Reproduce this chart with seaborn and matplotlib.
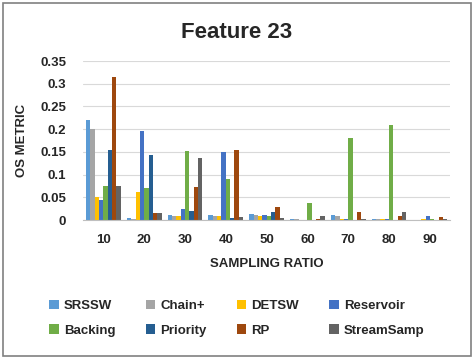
"""Feature 23: OS metric per sampling ratio for eight samplers."""
import matplotlib
matplotlib.use("Agg")
import matplotlib.pyplot as plt
from matplotlib.patches import Rectangle
import pandas as pd
import seaborn as sns

ratios = ["10", "20", "30", "40", "50", "60", "70", "80", "90"]
methods = ["SRSSW", "Chain+", "DETSW", "Reservoir",
           "Backing", "Priority", "RP", "StreamSamp"]

srssw      = [0.220, 0.005, 0.012, 0.012, 0.014, 0.003, 0.012, 0.003, 0.001]
chain      = [0.200, 0.003, 0.010, 0.010, 0.012, 0.002, 0.010, 0.002, 0.001]
detsw      = [0.050, 0.062, 0.010, 0.008, 0.008, 0.001, 0.002, 0.002, 0.002]
reservoir  = [0.045, 0.197, 0.025, 0.150, 0.012, 0.001, 0.002, 0.002, 0.010]
backing    = [0.075, 0.070, 0.153, 0.090, 0.009, 0.038, 0.180, 0.210, 0.002]
priority   = [0.155, 0.143, 0.020, 0.005, 0.017, 0.001, 0.001, 0.001, 0.001]
rp         = [0.315, 0.015, 0.072, 0.155, 0.028, 0.002, 0.018, 0.010, 0.007]
streamsamp = [0.075, 0.015, 0.137, 0.007, 0.005, 0.008, 0.002, 0.018, 0.002]

colors = ["#5B9BD5", "#A5A5A5", "#FFC000", "#4472C4",
          "#70AD47", "#255E91", "#9E480E", "#636363"]

series = [srssw, chain, detsw, reservoir, backing, priority, rp, streamsamp]
rows = []
for m, vals in zip(methods, series):
    for r, v in zip(ratios, vals):
        rows.append({"ratio": r, "method": m, "value": v})
df = pd.DataFrame(rows)

sns.set_style("white")
plt.rcParams["font.family"] = ["Liberation Sans", "DejaVu Sans"]

fig = plt.figure(figsize=(4.74, 3.59), dpi=100)
ax = fig.add_axes([0.175, 0.387, 0.775, 0.443])

sns.barplot(data=df, x="ratio", y="value", hue="method", order=ratios,
            hue_order=methods, palette=colors, width=0.85, saturation=1,
            linewidth=0, ax=ax, legend=True)

ax.set_ylim(0, 0.35)
ax.set_yticks([0, 0.05, 0.1, 0.15, 0.2, 0.25, 0.3, 0.35])
ax.set_yticklabels(["0", "0.05", "0.1", "0.15", "0.2", "0.25", "0.3", "0.35"])
ax.yaxis.grid(True, color="#D9D9D9", linewidth=0.8)
ax.set_axisbelow(True)
for s in ["top", "right", "left"]:
    ax.spines[s].set_visible(False)
ax.spines["bottom"].set_color("#BFBFBF")
ax.tick_params(axis="y", length=0, labelsize=9.5, pad=12)
ax.tick_params(axis="x", length=0, labelsize=9.5, pad=10)
for lab in ax.get_xticklabels() + ax.get_yticklabels():
    lab.set_fontweight("bold")

ax.set_xlabel("SAMPLING RATIO", fontsize=9.5, fontweight="bold", labelpad=9)
ax.set_ylabel("OS METRIC", fontsize=9.5, fontweight="bold", labelpad=9)
fig.suptitle("Feature 23", x=0.5, y=0.94, fontsize=16, fontweight="bold")

# legend filled row by row, like the original
handles, labels = ax.get_legend_handles_labels()
ax.get_legend().remove()
order = [0, 4, 1, 5, 2, 6, 3, 7]
fig.legend([handles[i] for i in order], [labels[i] for i in order],
           loc="center", bbox_to_anchor=(0.5, 0.113),
           ncol=4, frameon=False, handlelength=0.7, handleheight=0.7,
           handletextpad=0.4, columnspacing=2.3, labelspacing=0.9,
           prop={"weight": "bold", "size": 9.5})

fig.patches.append(Rectangle((0.006, 0.008), 0.988, 0.984, transform=fig.transFigure,
                             fill=False, edgecolor="#808080", linewidth=1.2))

fig.savefig("out.png", dpi=100)
